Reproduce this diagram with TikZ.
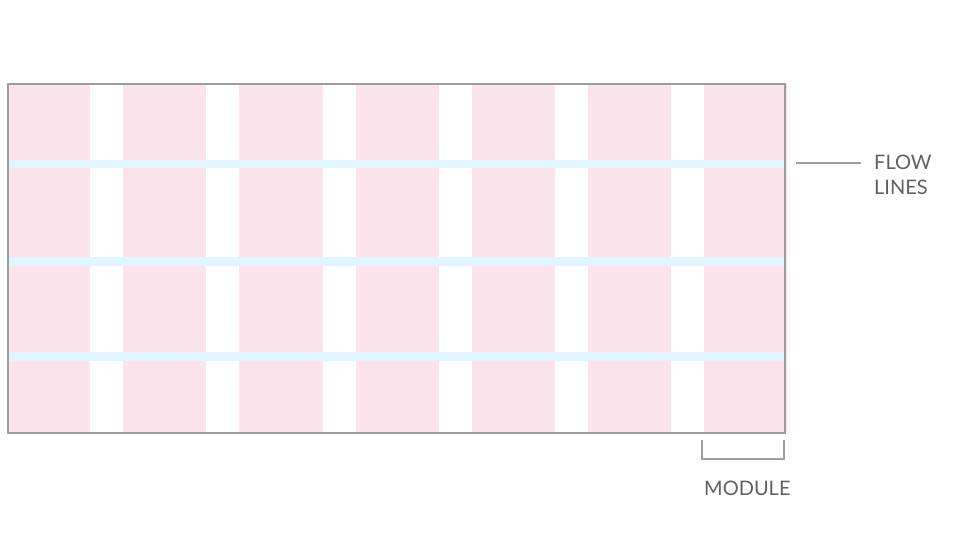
\documentclass[tikz,border=0pt]{standalone}
\usepackage{fontspec}
\setmainfont{Lato}
\definecolor{modpink}{HTML}{FCE4EC}
\definecolor{flowblue}{HTML}{E1F5FE}
\definecolor{framegray}{HTML}{9E9E9E}
\definecolor{textgray}{HTML}{616161}
\tikzset{
  module/.style={fill=modpink, draw=none},
  flowband/.style={fill=flowblue, draw=none},
  gridframe/.style={draw=framegray, line width=1.6pt},
  pointer/.style={draw=framegray, line width=1.2pt},
  lbl/.style={text=textgray, font=\fontsize{20}{25}\selectfont, inner sep=0pt},
}
\begin{document}
\begin{tikzpicture}[x=1pt,y=-1pt]
\useasboundingbox (0,0) rectangle (958,542);
% columns
\foreach \i in {0,...,6} {
  \pgfmathsetmacro{\xa}{7+\i*116.17}
  \pgfmathsetmacro{\xb}{\xa+83.2}
  \fill[module] (\xa,83) rectangle (\xb,432);
}
% flow lines
\fill[flowband] (7,160) rectangle (784,168);
\fill[flowband] (7,257) rectangle (784,266);
\fill[flowband] (7,352) rectangle (784,361);
% frame
\node[gridframe, inner sep=0pt, minimum width=777pt, minimum height=349pt, anchor=north west] (frame) at (7,83) {};
% flow lines label
\coordinate (fa) at (796,163);
\coordinate (fb) at (861,163);
\draw[pointer] (fa) -- (fb);
\node[lbl, anchor=west, align=left] (flow) at (874,175) {FLOW\\LINES};
% module bracket
\coordinate (ma) at (702,440);
\coordinate (mb) at (702,459);
\coordinate (mc) at (784,459);
\coordinate (md) at (784,440);
\draw[pointer] (ma) -- (mb) -- (mc) -- (md);
\node[lbl, anchor=west] (module) at (704,488.5) {MODULE};
\end{tikzpicture}
\end{document}
